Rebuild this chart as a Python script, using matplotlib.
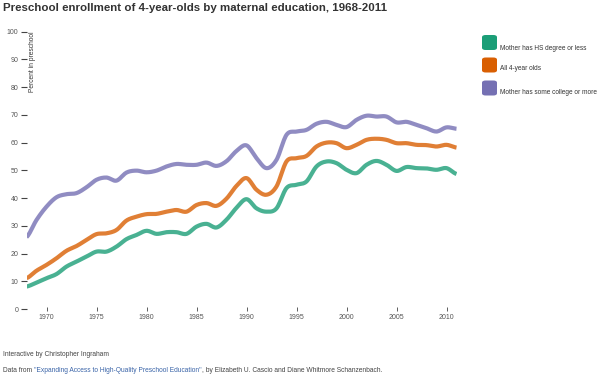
import numpy as np
import matplotlib
matplotlib.use("Agg")
import matplotlib.pyplot as plt
from matplotlib.patches import FancyBboxPatch

years = list(range(1968, 2012))
hs_or_less = [8.1, 9.5, 11.1, 12.6, 15.3, 17.1, 18.9, 20.7, 20.7, 22.5, 25.2, 26.7, 28.2, 27.1,
              27.7, 27.7, 27.1, 29.7, 30.7, 29.4, 32.2, 36.5, 39.6, 36.3, 35.1, 36.3, 43.6, 44.8,
              46.0, 51.4, 53.2, 52.6, 50.2, 49.0, 52.0, 53.4, 52.0, 49.8, 51.2, 50.8, 50.7, 50.2,
              50.8, 48.7]
all_kids = [11.1, 13.8, 15.9, 18.3, 21.0, 22.7, 24.9, 27.0, 27.3, 28.5, 31.9, 33.3, 34.2, 34.3,
            35.1, 35.7, 35.1, 37.5, 38.2, 37.2, 39.8, 44.4, 47.2, 43.0, 41.2, 44.2, 53.2, 54.4,
            55.2, 58.6, 60.0, 59.8, 58.0, 59.2, 61.0, 61.4, 61.0, 59.8, 59.8, 59.2, 59.1, 58.6,
            59.2, 58.2]
college = [25.9, 32.1, 36.9, 40.3, 41.4, 41.8, 43.9, 46.6, 47.4, 46.3, 49.2, 49.9, 49.3, 49.9,
           51.4, 52.3, 52.0, 52.0, 52.8, 51.6, 53.3, 57.0, 59.0, 54.4, 50.8, 53.8, 62.8, 64.0,
           64.6, 66.8, 67.5, 66.4, 65.6, 68.2, 69.7, 69.4, 69.4, 67.3, 67.5, 66.4, 65.2, 64.0,
           65.5, 65.0]
series_labels = ["Mother has HS degree or less", "All 4-year olds", "Mother has some college or more"]
colors = ["#1b9e77", "#d95f02", "#7570b3"]
yticks = list(range(0, 101, 10))
xticks = list(range(1970, 2011, 5))


def cardinal(x, y, n=12):
    x = np.asarray(x, float); y = np.asarray(y, float)
    xp = np.concatenate([[x[0]], x, [x[-1]]])
    yp = np.concatenate([[y[0]], y, [y[-1]]])
    xs, ys = [], []
    t = np.linspace(0, 1, n, endpoint=False)
    for i in range(1, len(xp) - 2):
        p0, p1, p2, p3 = yp[i-1], yp[i], yp[i+1], yp[i+2]
        m1 = (p2 - p0) / 2; m2 = (p3 - p1) / 2
        h00 = 2*t**3 - 3*t**2 + 1; h10 = t**3 - 2*t**2 + t
        h01 = -2*t**3 + 3*t**2; h11 = t**3 - t**2
        ys.append(h00*p1 + h10*m1 + h01*p2 + h11*m2)
        xs.append(xp[i] + t*(xp[i+1] - xp[i]))
    xs.append([x[-1]]); ys.append([y[-1]])
    return np.concatenate(xs), np.concatenate(ys)


plt.rcParams['font.family'] = ['Liberation Sans', 'DejaVu Sans']
W, H = 600, 376
fig = plt.figure(figsize=(6, 3.76), dpi=100)
ax = fig.add_axes([26.5/W, 1-309/H, 430/W, (309-31.7)/H])
ax.set_xlim(1968, 2011)
ax.set_ylim(0, 100)

for vals, c in zip([hs_or_less, all_kids, college], colors):
    xs, ys = cardinal(years, vals)
    ax.plot(xs, ys, color=c, lw=3.0, alpha=0.8, solid_capstyle='butt', solid_joinstyle='round')

for s in ax.spines.values():
    s.set_visible(False)
ax.set_yticks(yticks)
ax.set_xticks(xticks)
ax.tick_params(axis='y', length=4, width=0.8, color='#444444', labelsize=5, labelcolor='#555555', pad=2)
ax.tick_params(axis='x', length=2.5, width=0.6, color='#444444', labelsize=5, labelcolor='#555555', pad=0.5,
               direction='out')
for t in ax.xaxis.get_major_ticks():
    t.tick1line.set_marker('|')
    t.tick1line.set_markersize(3)
for lab in ax.get_xticklabels():
    lab.set_y(-0.004)

fig.text(3/W, 1-8/H, "Preschool enrollment of 4-year-olds by maternal education, 1968-2011",
         fontsize=8.25, fontweight='bold', color='#333333', va='center', ha='left')
fig.text(33/W, 1-32/H, "Percent in preschool", fontsize=4.75, rotation=90, va='top', ha='center', color='#333333')

# legend
sq_tops = [35, 57.5, 80.5]
text_y = [48, 68, 92]
for c, top, ty, lab in zip(colors, sq_tops, text_y, series_labels):
    p = FancyBboxPatch((482/W, 1-(top+15)/H), 15/W, 15/H, boxstyle="round,pad=0,rounding_size=0.006",
                       transform=fig.transFigure, facecolor=c, edgecolor='none')
    fig.patches.append(p)
    fig.text(500.5/W, 1-ty/H, lab, fontsize=4.7, color='#333333', va='center', ha='left')

fig.text(3/W, 1-354/H, "Interactive by Christopher Ingraham", fontsize=4.75, color='#444444', va='center')
fig.canvas.draw()
r = fig.canvas.get_renderer()
parts = [("Data from ", '#444444'),
         ("\"Expanding Access to High-Quality Preschool Education\"", '#3a64a8'),
         (", by Elizabeth U. Cascio and Diane Whitmore Schanzenbach.", '#444444')]
xpos = 3
for txt, col in parts:
    t = fig.text(xpos/W, 1-371/H, txt, fontsize=4.75, color=col, va='center')
    bb = t.get_window_extent(renderer=r)
    xpos = bb.x1 + 0.3

fig.savefig("out.png", dpi=100)
